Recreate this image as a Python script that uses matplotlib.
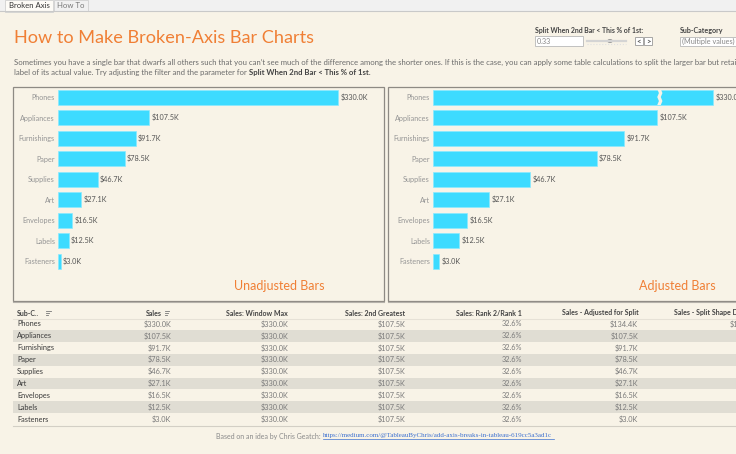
import matplotlib.pyplot as plt
from matplotlib.patches import Rectangle, Polygon, Circle
from matplotlib.lines import Line2D

plt.rcParams['font.family'] = ['Lato', 'DejaVu Sans']

# data
categories = ['Phones', 'Appliances', 'Furnishings', 'Paper', 'Supplies',
              'Art', 'Envelopes', 'Labels', 'Fasteners']
sales = [330.0, 107.5, 91.7, 78.5, 46.7, 27.1, 16.5, 12.5, 3.0]
window_max = [330.0, 330.0, 330.0, 330.0, 330.0, 330.0, 330.0, 330.0, 330.0]
second_greatest = [107.5, 107.5, 107.5, 107.5, 107.5, 107.5, 107.5, 107.5, 107.5]
rank_ratio = [32.6, 32.6, 32.6, 32.6, 32.6, 32.6, 32.6, 32.6, 32.6]
adjusted = [134.4, 107.5, 91.7, 78.5, 46.7, 27.1, 16.5, 12.5, 3.0]
split_shape = [108.2, None, None, None, None, None, None, None, None]
split_param = 0.33

col_headers = ['Sales', 'Sales: Window Max', 'Sales: 2nd Greatest',
               'Sales: Rank 2/Rank 1', 'Sales - Adjusted for Split',
               'Sales - Split Shape Data']

BG = '#f8f3e7'
BAR = '#3ddbff'
ORANGE = '#f07f35'

W, H = 736, 454
fig = plt.figure(figsize=(W / 100, H / 100), dpi=100, facecolor=BG)


def fx(px):
    return px / W


def fy(py):
    return 1 - py / H


def box(x0, y0, x1, y1, **kw):
    r = Rectangle((fx(x0), fy(y1)), (x1 - x0) / W, (y1 - y0) / H,
                  transform=fig.transFigure, **kw)
    fig.add_artist(r)
    return r


def hline(x0, x1, y, **kw):
    fig.add_artist(Line2D([fx(x0), fx(x1)], [fy(y), fy(y)], transform=fig.transFigure, **kw))


def money(v):
    return f'${v:.1f}K'


# tab bar
box(0, 0, W, 11, facecolor='#f1f1f1', edgecolor='none')
hline(0, W, 11, color='#c9c9c9', lw=0.8)
box(5, 0, 53, 11.5, facecolor='#fdfbf6', edgecolor='#d0d0d0', lw=0.6)
box(54, 0, 88, 11, facecolor='#f1f1f1', edgecolor='#d0d0d0', lw=0.6)
fig.text(fx(29), fy(5.5), 'Broken Axis', ha='center', va='center', fontsize=5.6, color='#333333')
fig.text(fx(71), fy(5.5), 'How To', ha='center', va='center', fontsize=5.6, color='#777777')

# title + description
fig.text(fx(14), fy(38), 'How to Make Broken-Axis Bar Charts', ha='left', va='center',
         fontsize=13.1, color=ORANGE)
fig.text(fx(14), fy(62),
         "Sometimes you have a single bar that dwarfs all others such that you can\u2019t see much of the "
         "difference among the shorter ones. If this is the case, you can apply some table calculations "
         "to split the larger bar but retain",
         ha='left', va='center', fontsize=5.55, color='#6b6b6b')
t2 = fig.text(fx(14), fy(73),
              'label of its actual value. Try adjusting the filter and the parameter for ',
              ha='left', va='center', fontsize=5.55, color='#6b6b6b')
fig.canvas.draw()
ext = t2.get_window_extent()
fig.text(ext.x1 / W, fy(73), 'Split When 2nd Bar < This % of 1st.', ha='left', va='center',
         fontsize=5.55, color='#444444', fontweight='bold')

# parameter control
fig.text(fx(535), fy(30), 'Split When 2nd Bar < This % of 1st:', ha='left', va='center',
         fontsize=4.95, color='#444444', fontweight='bold')
box(535, 36.5, 583, 45.5, facecolor='white', edgecolor='#b8b8b8', lw=0.6)
fig.text(fx(537), fy(41), f'{split_param:.2f}', ha='left', va='center', fontsize=5.2, color='#888888')
hline(587, 626, 41, color='#d4d4d4', lw=1.6)
hline(587, 626, 44, color='#e0e0e0', lw=0.8, ls=':')
fig.add_artist(Circle((fx(610), fy(41)), 2.4 / W, transform=fig.transFigure,
                      facecolor='white', edgecolor='#888888', lw=0.6))
box(635, 37, 643, 45, facecolor='white', edgecolor='#999999', lw=0.6)
box(644, 37, 652, 45, facecolor='white', edgecolor='#999999', lw=0.6)
fig.text(fx(639), fy(41), '<', ha='center', va='center', fontsize=5.5, color='#555555', fontweight='bold')
fig.text(fx(648), fy(41), '>', ha='center', va='center', fontsize=5.5, color='#555555', fontweight='bold')

# filter control
fig.text(fx(680), fy(30), 'Sub-Category', ha='left', va='center', fontsize=5.1,
         color='#444444', fontweight='bold')
box(680, 37, 745, 46, facecolor='white', edgecolor='#b8b8b8', lw=0.6)
fig.text(fx(682), fy(41.5), '(Multiple values)', ha='left', va='center', fontsize=5.2, color='#888888')

# chart panels
box(13, 86.5, 383.5, 301, facecolor='none', edgecolor='#8e8a84', lw=0.9)
box(388, 86.5, 745, 301, facecolor='none', edgecolor='#8e8a84', lw=0.9)
hline(13, 383.5, 301.5, color='#b5b1aa', lw=0.8)
hline(388, 745, 301.5, color='#b5b1aa', lw=0.8)

rows = list(range(len(categories)))


def bar_axes(left_px, px_per_k, values, labels):
    ax = fig.add_axes([fx(left_px), fy(301), (W - left_px) / W, (301 - 87) / H])
    ax.set_facecolor('none')
    ax.barh(rows, values, height=0.73, color=BAR, edgecolor='#8aeaff', linewidth=0.5)
    ax.set_xlim(0, (W - left_px) / px_per_k)
    ax.set_ylim(9.95, -0.49)
    ax.set_xticks([])
    ax.set_yticks(rows)
    ax.set_yticklabels(categories)
    ax.tick_params(axis='y', length=0, pad=2.2, labelsize=5.2, labelcolor='#969696')
    for s in ax.spines.values():
        s.set_visible(False)
    for i, v in enumerate(values):
        ax.annotate(money(labels[i]), (v, i), xytext=(1.6, 0), textcoords='offset points',
                    ha='left', va='center', fontsize=5.2, color='#555555')
    return ax


ax1 = bar_axes(58, 0.8485, sales, sales)
fig.text(fx(325), fy(286), 'Unadjusted Bars', ha='right', va='center', fontsize=9, color=ORANGE)

ax2 = bar_axes(433, 2.084, adjusted, sales)
fig.text(fx(716), fy(286), 'Adjusted Bars', ha='right', va='center', fontsize=9, color=ORANGE)

# axis break shape on the split bar
for i, s in enumerate(split_shape):
    if s is None:
        continue
    h = 0.39
    zig = [s - 0.6, s + 0.2, s - 0.6, s + 0.2, s - 0.6]
    ys = [i - h, i - h / 2, i, i + h / 2, i + h]
    left = list(zip(zig, ys))
    right = [(x + 1.7, y) for x, y in zip(zig, ys)][::-1]
    ax2.add_patch(Polygon(left + right, closed=True, facecolor=BG, edgecolor='none', zorder=3))

# table
hy = 313
fig.text(fx(17), fy(hy), 'Sub-C..', ha='left', va='center', fontsize=5.0, color='#444444', fontweight='bold')
header_right = [162, 288, 405.5, 522, 638.5, 760]
value_right = [171, 288, 405, 522, 638, 757]
for j, name in enumerate(col_headers):
    if j == len(col_headers) - 1:
        fig.text(fx(674), fy(hy), name, ha='left', va='center', fontsize=5.0,
                 color='#444444', fontweight='bold')
    else:
        fig.text(fx(header_right[j]), fy(hy), name, ha='right', va='center', fontsize=5.0,
                 color='#444444', fontweight='bold')
for ix in [46, 164.5]:
    for k, ln in enumerate([4.5, 3.5, 2.0]):
        hline(ix, ix + ln, hy - 2.5 + 2.2 * k, color='#777777', lw=0.6)
hline(13, W, 318.5, color='#e6e1d6', lw=0.8)

row_h = 11.9
for i, cat in enumerate(categories):
    y = 324 + row_h * i
    if i % 2 == 1:
        box(13, y - row_h / 2, W, y + row_h / 2, facecolor='#e0ddd3', edgecolor='none')
    fig.text(fx(17), fy(y), cat, ha='left', va='center', fontsize=5.3, color='#3a3a3a')
    cells = [money(sales[i]), money(window_max[i]), money(second_greatest[i]),
             f'{rank_ratio[i]:.1f}%', money(adjusted[i]),
             money(split_shape[i]) if split_shape[i] is not None else '']
    for j, c in enumerate(cells):
        fig.text(fx(value_right[j]), fy(y), c, ha='right', va='center', fontsize=5.3, color='#7a7a7a')
hline(13, W, 425.5, color='#d3cfc5', lw=0.8)

# footer
fig.text(fx(322.5), fy(436), 'Based on an idea by Chris Geatch: ', ha='right', va='center',
         fontsize=5.0, color='#8a8a8a')
fig.text(fx(323), fy(436), 'https://medium.com/@TableauByChris/add-axis-breaks-in-tableau-619cc5a3ad1c',
         ha='left', va='center', fontsize=5.05, color='#3b6fd0', family='Liberation Serif')
hline(323, 554, 438.8, color='#3b6fd0', lw=0.5)

fig.savefig('out.png', dpi=100, facecolor=BG)
